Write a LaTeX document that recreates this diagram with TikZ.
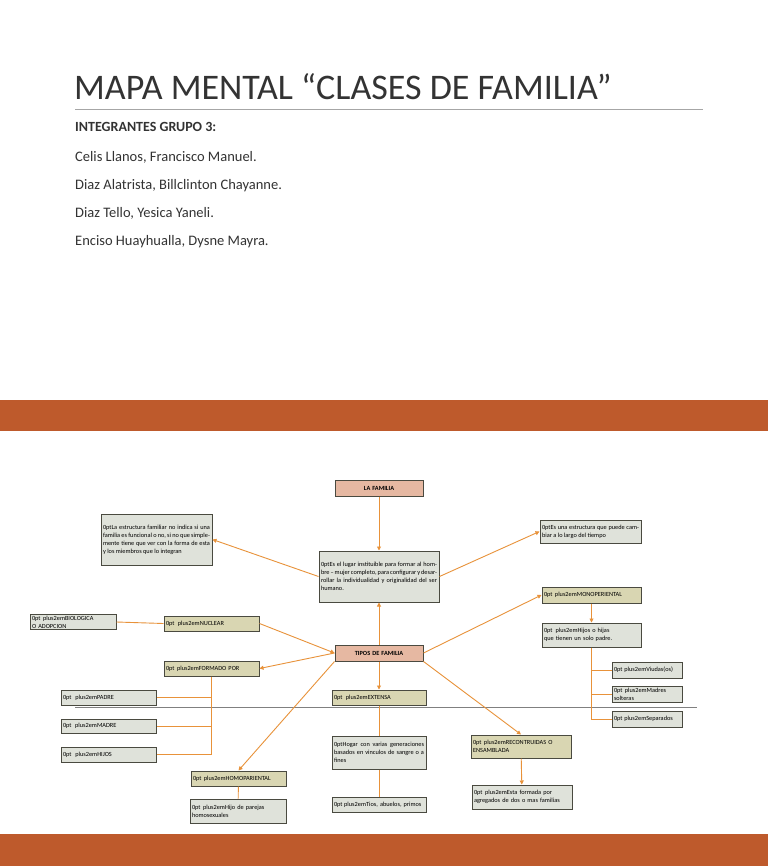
\documentclass[tikz,border=0pt]{standalone}
\usepackage{fontspec}
\setmainfont{Carlito}
\usetikzlibrary{arrows.meta}
\definecolor{band}{HTML}{BE5A2C}
\definecolor{conn}{HTML}{E8923A}
\definecolor{salmon}{HTML}{E6B8A2}
\definecolor{khaki}{HTML}{D9D6B2}
\definecolor{lightg}{HTML}{DFE2DA}
\definecolor{edge}{HTML}{4A4A40}
\tikzset{
 bx/.style={draw=edge,line width=1pt,inner sep=1pt,font=\fontsize{6.3}{8}\selectfont\hyphenpenalty=10000,align=center},
 sal/.style={bx,fill=salmon,font=\fontsize{6.3}{8}\selectfont\bfseries},
 kh/.style={bx,fill=khaki},
 lg/.style={bx,fill=lightg},
 arr/.style={color=conn,line width=0.9pt,-{Triangle[length=4pt,width=4pt]}},
 ln/.style={color=conn,line width=0.9pt},
}
\newcommand{\bxat}[6]{\node[#1,minimum width=#4pt-#2pt,minimum height=#5pt-#3pt,text width=#4pt-#2pt-4pt] (#6) at ({(#2+#4)/2},{(#3+#5)/2})}
\begin{document}
\begin{tikzpicture}[x=1pt,y=-1pt]
\useasboundingbox (0,0) rectangle (768,866);
\fill[white] (0,0) rectangle (768,866);
\node[anchor=base west,inner sep=0,font=\fontsize{36}{40}\selectfont,text=black!80] (title) at (74,100) {MAPA MENTAL “CLASES DE FAMILIA”};
\draw[gray!70,line width=0.8pt] (75,109) -- (703,109);
\node[anchor=base west,inner sep=0,font=\fontsize{14}{16}\selectfont\bfseries,text=black!80] (int) at (75,132) {INTEGRANTES GRUPO 3:};
\foreach \t [count=\i] in {{Celis Llanos, Francisco Manuel.},{Diaz Alatrista, Billclinton Chayanne.},{Diaz Tello, Yesica Yaneli.},{Enciso Huayhualla, Dysne Mayra.}}
  \node[anchor=base west,inner sep=0,font=\fontsize{14.5}{16}\selectfont,text=black!80] (n\i) at (75,134+28*\i) {\t};
\fill[band] (0,400) rectangle (768,431);
\fill[band] (0,834) rectangle (768,866);
\draw[gray,line width=0.8pt] (75,707) -- (697,707);

\bxat{sal}{335}{480}{423}{496}{fam}{LA FAMILIA};
\bxat{lg,align=justify}{101}{514}{212}{565}{est}{La estructura familiar no indica si una familia es funcional o no, si no que simplemente tiene que ver con la forma de esta y los miembros que lo integran};
\bxat{lg,align=justify}{319}{551}{439}{602}{lug}{Es el lugar instituible para formar al hombre – mujer completo, para configurar y desarrollar la individualidad y originalidad del ser humano.};
\bxat{lg,align=justify}{540}{520}{641}{543}{cam}{Es una estructura que puede cambiar a lo largo del tiempo};
\bxat{kh}{542}{587}{641}{603}{mono}{MONOPERIENTAL};
\bxat{lg}{542}{623}{641}{647}{hij}{Hijos o hijas que tienen un solo padre.};
\bxat{lg}{612}{662}{682}{678}{viu}{Viudas(os)};
\bxat{lg}{612}{686}{682}{702}{mad}{Madres solteras};
\bxat{lg}{612}{711}{682}{727}{sep}{Separados};
\bxat{lg}{30}{615}{116}{629}{bio}{BIOLOGICA O ADOPCION};
\bxat{kh}{164}{616}{259}{631}{nuc}{NUCLEAR};
\bxat{sal}{335}{645}{423}{661}{tip}{TIPOS DE FAMILIA};
\bxat{kh}{164}{661}{259}{676}{for}{FORMADO POR};
\bxat{lg}{61}{690}{156}{705}{pad}{PADRE};
\bxat{lg}{61}{719}{156}{733}{madr}{MADRE};
\bxat{lg}{61}{747}{156}{762}{hijos}{HIJOS};
\bxat{kh}{332}{690}{426}{705}{ext}{EXTENSA};
\bxat{lg,align=justify}{332}{736}{426}{769}{hog}{Hogar con varias generaciones basados en vinculos de sangre o a fines};
\bxat{lg}{332}{797}{426}{812}{tio}{Tios, abuelos, primos};
\bxat{kh}{471}{735}{571}{758}{rec}{RECONTRUIDAS O\\ENSAMBLADA};
\bxat{lg}{472}{785}{572}{809}{esf}{Esta formada por agregados de dos o mas familias};
\bxat{kh}{191}{771}{286}{786}{hom}{HOMOPARIENTAL};
\bxat{lg}{190}{799}{286}{823}{hpa}{Hijo de parejas\\homosexuales};

\draw[arr] (fam) -- (lug);
\draw[arr] (lug.west) -- (est.east);
\draw[arr] (lug.east) -- (cam.west);
\draw[arr] (tip) -- (lug);
\draw[arr] (nuc.east) -- (tip.west);
\draw[ln] (bio.east) -- (nuc.west);
\draw[arr] (tip.west) -- (for.east);
\draw[arr] (tip.east) -- (mono.west);
\draw[arr] (mono) -- (hij);
\draw[arr] (tip) -- (ext);
\draw[arr] (tip.south east) -- (rec.north);
\draw[arr] (tip.south west) -- (hom.north);
\draw[ln] (ext) -- (hog);
\draw[ln] (hog) -- (tio);
\draw[arr] (rec) -- (esf);
\draw[ln] (hom) -- (hpa);
\draw[ln] (hij.south) |- (viu.west);
\draw[ln] (hij.south) |- (mad.west);
\draw[ln] (hij.south) |- (sep.west);
\draw[ln] (for.south) |- (pad.east);
\draw[ln] (for.south) |- (madr.east);
\draw[ln] (for.south) |- (hijos.east);
\end{tikzpicture}
\end{document}
